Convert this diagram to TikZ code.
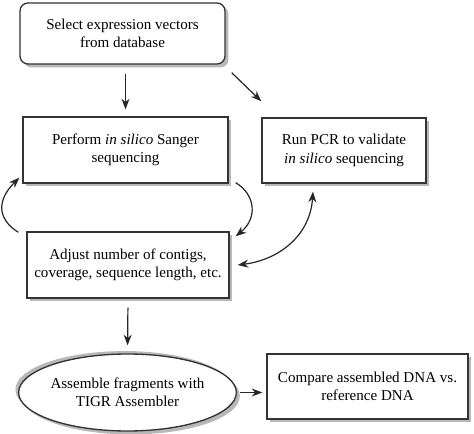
\documentclass[tikz,border=0pt]{standalone}
\usepackage{fontspec}
\setmainfont{Liberation Serif}
\usetikzlibrary{arrows.meta,shapes.geometric,shadows}

\tikzset{
  flowbox/.style={draw=black!80, line width=1pt, fill=white, align=center, inner sep=0pt,
    font=\fontsize{11.3}{13.8}\selectfont,
    drop shadow={shadow xshift=2.6pt, shadow yshift=-2.6pt, fill=black!28, opacity=1}},
  flowoval/.style={flowbox, ellipse,
    drop shadow={shadow xshift=-2.4pt, shadow yshift=2.2pt, fill=black!28, opacity=1}},
  flowarrow/.style={-{Stealth[length=8pt,width=6pt]}, line width=0.9pt, black!85},
}

\begin{document}
\begin{tikzpicture}[x=0.75pt,y=0.75pt,yscale=-1,xscale=1]
\useasboundingbox (0,0) rectangle (474,434);

% Boxes
\node [flowbox, rounded corners=6pt, minimum width=153.75pt, minimum height=45.75pt] (select) at (122.5,33.5) {Select expression vectors\\from database};
\node [flowbox, minimum width=153.75pt, minimum height=49.5pt] (perform) at (125.5,150) {Perform \textit{in silico} Sanger\\sequencing};
\node [flowbox, minimum width=123pt, minimum height=48.75pt] (pcr) at (344,150.5) {Run PCR to validate\\\textit{in silico} sequencing};
\node [flowbox, minimum width=151.5pt, minimum height=49.5pt] (adjust) at (128,265) {Adjust number of contigs,\\coverage, sequence length, etc.};
\node [flowoval, minimum width=146.25pt, minimum height=57.75pt] (assemble) at (127.5,392.5) {Assemble fragments with\\TIGR Assembler};
\node [flowbox, minimum width=150.75pt, minimum height=48.75pt] (compare) at (367.5,386.5) {Compare assembled DNA vs.\\reference DNA};

% Straight arrows
\draw [flowarrow, shorten <=6.75pt, shorten >=5.25pt] (perform.north |- select.south) -- (perform.north);
\draw [flowarrow] ([shift={(6,8)}]select.south east) -- ([shift={(0,-16)}]pcr.north west);
\draw [flowarrow, shorten <=6.75pt, shorten >=6pt] (adjust.south) -- (assemble.north);
\draw [flowarrow, shorten <=2.25pt, shorten >=3pt] (assemble.east) -- (assemble.east -| compare.west);

% Curved arrows
\draw [flowarrow] ([shift={(-8,1)}]adjust.north west) .. controls +(-22,-14) and +(-22,22) .. ([shift={(-3,-6)}]perform.south west);
\draw [flowarrow] ([shift={(7,-1)}]perform.south east) .. controls +(20,12) and +(22,-18) .. ([shift={(6,5)}]adjust.north east);
\draw [flowarrow, {Stealth[length=8pt,width=6pt]}-{Stealth[length=8pt,width=6pt]}] ([shift={(-31,8)}]pcr.south) .. controls +(-3,45) and +(40,-5) .. ([shift={(8,0)}]adjust.east);

\end{tikzpicture}
\end{document}
